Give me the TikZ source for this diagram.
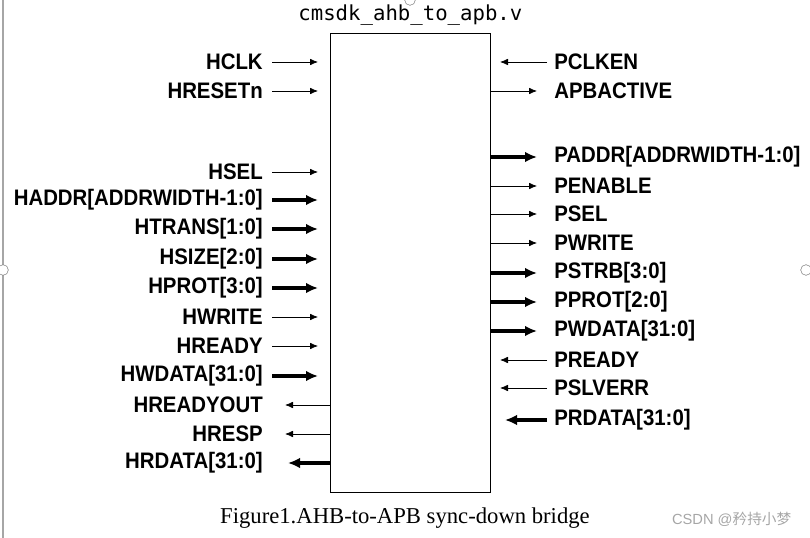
\documentclass[tikz,border=0pt]{standalone}
\usepackage{fontspec}
\setmainfont{Liberation Serif}
\newfontfamily\sigfont{Liberation Sans}
\newfontfamily\monofont{DejaVu Sans Mono}
\newfontfamily\cjk{Noto Sans CJK SC}
\usetikzlibrary{positioning,arrows.meta,calc}
\begin{document}
\begin{tikzpicture}[x=0.75pt,y=-0.75pt,
    sig/.style={font=\sigfont\bfseries\fontsize{15.3}{16}\selectfont, inner sep=0pt, yscale=1.1},
    thin/.style={-{Latex[length=6pt,width=5pt]}, line width=0.6pt},
    bus/.style={-{Latex[length=9pt,width=8pt]}, line width=2.4pt}]
    \useasboundingbox (0,0) rectangle (810,538);
    % screenshot frame
    \draw[gray!70, line width=0.8pt] (3,0) -- (3,538);
    \node (hdl1) [draw=gray, circle, fill=white, minimum size=8pt, inner sep=0pt] at (3,270) {};
    \node (hdl2) [draw=gray, circle, fill=white, minimum size=8pt, inner sep=0pt] at (806,270) {};
    \node (hdl3) [draw=gray, circle, fill=white, minimum size=8pt, inner sep=0pt] at (410,0) {};
    % bridge block
    \node (bridge) [draw, line width=0.6pt, minimum width=120pt, minimum height=344pt, anchor=north west, inner sep=0pt] at (330,33) {};
    \node (title) [font=\monofont\fontsize{15.5}{16}\selectfont, above=2pt of bridge] {cmsdk\_ahb\_to\_apb.v};
    % left side inputs
    \foreach \n/\y/\s in {HCLK/62/thin, HRESETn/91/thin, HSEL/172/thin, HADDR[ADDRWIDTH-1:0]/200/bus,
        HTRANS[1:0]/229/bus, HSIZE[2:0]/259/bus, HPROT[3:0]/288/bus, HWRITE/317/thin,
        HREADY/346/thin, HWDATA[31:0]/376/bus}{
        \node (l\y) [sig, anchor=east] at (263,\y) {\n};
        \coordinate (la\y) at (272,\y);
        \coordinate (lb\y) at (318,\y);
        \draw[\s] (la\y) -- (lb\y);
    }
    % left side outputs
    \foreach \n/\y/\s/\e in {HREADYOUT/405/thin/285, HRESP/434/thin/285, HRDATA[31:0]/463/bus/288}{
        \node (l\y) [sig, anchor=east] at (263,\y) {\n};
        \coordinate (la\y) at (330,\y);
        \coordinate (lb\y) at (\e,\y);
        \draw[\s] (la\y) -- (lb\y);
    }
    % right side outputs
    \foreach \n/\y/\s in {APBACTIVE/91/thin, PADDR[ADDRWIDTH-1:0]/157/bus, PENABLE/186/thin, PSEL/214/thin,
        PWRITE/243/thin, PSTRB[3:0]/273/bus, PPROT[2:0]/302/bus, PWDATA[31:0]/331/bus}{
        \node (r\y) [sig, anchor=west] at (554,\y) {\n};
        \coordinate (ra\y) at (490,\y);
        \coordinate (rb\y) at (537,\y);
        \draw[\s] (ra\y) -- (rb\y);
    }
    % right side inputs
    \foreach \n/\y/\s/\e in {PCLKEN/62/thin/500, PREADY/360/thin/500, PSLVERR/388/thin/500, PRDATA[31:0]/420/bus/505}{
        \node (r\y) [sig, anchor=west] at (554,\y) {\n};
        \coordinate (ra\y) at (547,\y);
        \coordinate (rb\y) at (\e,\y);
        \draw[\s] (ra\y) -- (rb\y);
    }
    \node (caption) [font=\fontsize{17}{18}\selectfont] at (405,518) {Figure1.AHB-to-APB sync-down bridge};
    \node (mark) [font=\sigfont\fontsize{11}{12}\selectfont, text=gray!70, anchor=east] at (796,519) {CSDN @{\cjk 矜持小梦}};
\end{tikzpicture}
\end{document}
